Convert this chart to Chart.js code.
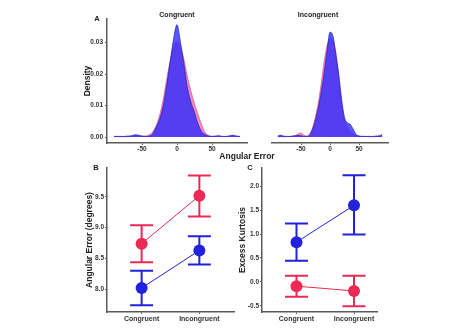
<!DOCTYPE html>
<html><head><meta charset="utf-8">
<script src="https://cdn.jsdelivr.net/npm/chart.js@4.4.1/dist/chart.umd.min.js"></script>
<style>
body{margin:0;background:#fff;}
#wrap{position:relative;width:474px;height:332px;overflow:hidden;font-family:'Liberation Sans',Arial,sans-serif;background:#fff;}
canvas{position:absolute;}
.lbl{position:absolute;font-weight:bold;color:#222;white-space:nowrap;transform:translate(-50%,-50%);line-height:1;}
</style></head><body>
<div id="wrap">
<canvas id="aL" style="left:60px;top:0px;" width="190" height="165"></canvas>
<canvas id="aR" style="left:245px;top:0px;" width="150" height="165"></canvas>
<canvas id="cB" style="left:60px;top:160px;" width="180" height="172"></canvas>
<canvas id="cC" style="left:230px;top:160px;" width="155" height="172"></canvas>
<div class="lbl" style="left:97px;top:19px;font-size:7.5px;">A</div>
<div class="lbl" style="left:177px;top:14px;font-size:7px;">Congruent</div>
<div class="lbl" style="left:318px;top:14px;font-size:7px;">Incongruent</div>
<div class="lbl" style="left:247px;top:156px;font-size:8.5px;">Angular Error</div>
<div class="lbl" style="left:96px;top:168px;font-size:7.5px;">B</div>
<div class="lbl" style="left:250px;top:168px;font-size:7.5px;">C</div>
</div>
<script>
// ---------- DATA ----------
const densX = [-90,-85,-80,-75,-70,-65,-60,-55,-50,-45,-40,-35,-30,-25,-20,-15,-10,-5,0,5,10,15,20,25,30,35,40,45,50,55,60,65,70,75,80,85,90];
const congBlue = [0.0002,0.0002,0.0002,0.0002,0.0003,0.0004,0.0007,0.0006,0.0003,0.0002,0.0003,0.0009,0.0030,0.0056,0.0095,0.0160,0.0235,0.0310,0.0357,0.0300,0.0230,0.0155,0.0110,0.0078,0.0042,0.0018,0.0008,0.0003,0.0002,0.0003,0.0004,0.0002,0.0002,0.0004,0.0006,0.0003,0.0002];
const congRed  = [0.0001,0.0001,0.0001,0.0001,0.0001,0.0002,0.0003,0.0003,0.0002,0.0003,0.0006,0.0015,0.0035,0.0068,0.0115,0.0180,0.0240,0.0285,0.0303,0.0285,0.0245,0.0190,0.0145,0.0105,0.0072,0.0040,0.0015,0.0005,0.0002,0.0002,0.0002,0.0001,0.0001,0.0002,0.0003,0.0002,0.0001];
const incBlue  = [0.0003,0.0006,0.0003,0.0002,0.0002,0.0003,0.0004,0.0005,0.0004,0.0002,0.0002,0.0006,0.0025,0.0055,0.0095,0.0145,0.0205,0.0275,0.0333,0.0322,0.0262,0.0200,0.0120,0.0062,0.0045,0.0040,0.0025,0.0008,0.0003,0.0002,0.0002,0.0002,0.0002,0.0002,0.0003,0.0004,0.0008];
const incRed   = [0.0001,0.0001,0.0001,0.0001,0.0001,0.0002,0.0004,0.0010,0.0013,0.0006,0.0003,0.0010,0.0030,0.0065,0.0110,0.0172,0.0240,0.0290,0.0312,0.0305,0.0270,0.0185,0.0100,0.0052,0.0030,0.0018,0.0010,0.0005,0.0003,0.0002,0.0002,0.0001,0.0001,0.0001,0.0002,0.0002,0.0001];
const densXTicks = [-50,0,50];
const densYTicks = [0,0.01,0.02,0.03];

const categories = ['Congruent','Incongruent'];
const bRedMean  = [8.74, 9.52];
const bRedLow   = [8.44, 9.18];
const bRedHigh  = [9.04, 9.85];
const bBlueMean = [8.02, 8.63];
const bBlueLow  = [7.74, 8.40];
const bBlueHigh = [8.30, 8.86];
const bYTicks = [8.0, 8.5, 9.0, 9.5];

const cBlueMean = [0.83, 1.60];
const cBlueLow  = [0.44, 0.99];
const cBlueHigh = [1.22, 2.23];
const cRedMean  = [-0.09, -0.19];
const cRedLow   = [-0.31, -0.51];
const cRedHigh  = [0.13, 0.13];
const cYTicks = [-0.5, 0.0, 0.5, 1.0, 1.5, 2.0];

// ---------- STYLE ----------
Chart.defaults.font.family = "'Liberation Sans', Arial, sans-serif";
Chart.defaults.color = '#333';
const RED = '#EC2A55', BLUE = '#2222DD';
const AXIS = '#5a5a5a';
const TICKFONT = {size:6.5, weight:'bold'};
const TITLEFONT = {size:8.5, weight:'bold'};

const pts = (xs, ys) => xs.map((x,i)=>({x:x, y:ys[i]}));
const noPlugins = {legend:{display:false}, tooltip:{enabled:false}};

const errorBars = {
  id:'errorBars',
  beforeDatasetsDraw(chart){
    const ctx = chart.ctx, xs = chart.scales.x, ys = chart.scales.y;
    chart.data.datasets.forEach(ds=>{
      if(!ds.errLow) return;
      ctx.save();
      ctx.strokeStyle = ds.borderColor; ctx.lineWidth = 2;
      ds.data.forEach((p,i)=>{
        const x = xs.getPixelForValue(p.x);
        const yl = ys.getPixelForValue(ds.errLow[i]);
        const yh = ys.getPixelForValue(ds.errHigh[i]);
        ctx.beginPath();
        ctx.moveTo(x,yl); ctx.lineTo(x,yh);
        ctx.moveTo(x-11.5,yl); ctx.lineTo(x+11.5,yl);
        ctx.moveTo(x-11.5,yh); ctx.lineTo(x+11.5,yh);
        ctx.stroke();
      });
      ctx.restore();
    });
  }
};

function densityChart(id, blue, red, showY, pad){
  return new Chart(document.getElementById(id), {
    type:'line',
    data:{datasets:[
      {data:pts(densX, blue), borderColor:'rgba(30,30,200,0.9)', borderWidth:0.8,
       backgroundColor:'rgba(40,40,255,0.78)', fill:{value:0}, pointRadius:0,
       tension:0.4, cubicInterpolationMode:'monotone'},
      {data:pts(densX, red), borderColor:'rgba(220,60,120,0.8)', borderWidth:0.8,
       backgroundColor:'rgba(230,50,130,0.55)', fill:{value:0}, pointRadius:0,
       tension:0.4, cubicInterpolationMode:'monotone'}
    ]},
    options:{
      responsive:false, animation:false, events:[],
      layout:{padding:pad},
      plugins:noPlugins,
      scales:{
        x:{type:'linear', min:-100, max:100,
           afterBuildTicks:s=>{s.ticks = densXTicks.map(v=>({value:v}));},
           afterFit:s=>{s.height = 22;},
           ticks:{font:TICKFONT, color:'#333', padding:0, maxRotation:0,
                  callback:v=>String(v)},
           grid:{drawOnChartArea:false, tickLength:2, color:AXIS},
           border:{color:AXIS, width:1.5}},
        y:{display:showY, min:-0.0019, max:0.0375,
           afterBuildTicks:s=>{s.ticks = densYTicks.map(v=>({value:v}));},
           afterFit:s=>{s.width = 24;},
           ticks:{font:TICKFONT, color:'#333', padding:2,
                  callback:v=>Number(v).toFixed(2)},
           grid:{drawOnChartArea:false, tickLength:2, color:AXIS},
           border:{color:AXIS, width:1.5},
           title:{display:true, text:'Density', font:TITLEFONT, color:'#222', padding:{top:0,bottom:0}}}
      }
    }
  });
}

densityChart('aL', congBlue, congRed, true, {left:23, right:3, top:19, bottom:0});
densityChart('aR', incBlue, incRed, false, {left:3, right:7, top:19, bottom:0});

function pointChart(id, sets, yMin, yMax, yTicks, xMax, yTitle, yW, pad){
  return new Chart(document.getElementById(id), {
    type:'line',
    data:{datasets:sets.map(s=>({
      data:pts([1,2], s.mean), errLow:s.low, errHigh:s.high,
      borderColor:s.color, backgroundColor:s.color, borderWidth:1,
      pointRadius:6, pointBackgroundColor:s.color, pointBorderWidth:0, fill:false, tension:0
    }))},
    options:{
      responsive:false, animation:false, events:[],
      layout:{padding:pad},
      plugins:noPlugins,
      scales:{
        x:{type:'linear', min:0.4, max:xMax,
           afterBuildTicks:s=>{s.ticks = [{value:1},{value:2}];},
           afterFit:s=>{s.height = 20;},
           ticks:{font:{size:7, weight:'bold'}, color:'#333', padding:1, maxRotation:0,
                  callback:v=>categories[Math.round(v)-1]},
           grid:{drawOnChartArea:false, tickLength:2, color:AXIS},
           border:{color:AXIS, width:1.5}},
        y:{min:yMin, max:yMax,
           afterBuildTicks:s=>{s.ticks = yTicks.map(v=>({value:v}));},
           afterFit:s=>{s.width = yW;},
           ticks:{font:TICKFONT, color:'#333', padding:1,
                  callback:v=>Number(v).toFixed(1)},
           grid:{drawOnChartArea:false, tickLength:2, color:AXIS},
           border:{color:AXIS, width:1.5},
           title:{display:true, text:yTitle, font:TITLEFONT, color:'#222', padding:{top:0,bottom:0}}}
      }
    },
    plugins:[errorBars]
  });
}

pointChart('cB', [
  {mean:bRedMean, low:bRedLow, high:bRedHigh, color:RED},
  {mean:bBlueMean, low:bBlueLow, high:bBlueHigh, color:BLUE}
], 7.63, 9.97, bYTicks, 2.6, 'Angular Error (degrees)', 22, {left:25, right:5, top:8, bottom:0});

pointChart('cC', [
  {mean:cBlueMean, low:cBlueLow, high:cBlueHigh, color:BLUE},
  {mean:cRedMean, low:cRedLow, high:cRedHigh, color:RED}
], -0.63, 2.38, cYTicks, 2.4, 'Excess Kurtosis', 24, {left:8, right:8, top:8, bottom:0});
</script>
</body></html>
